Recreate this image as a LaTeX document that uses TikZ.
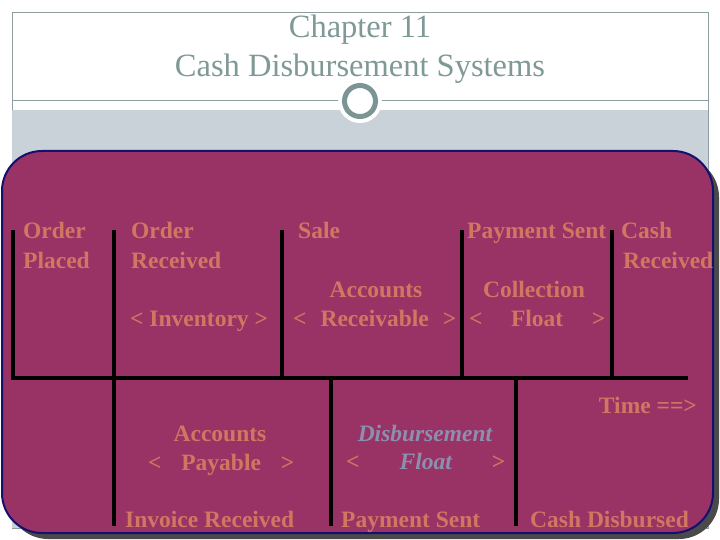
\documentclass[tikz,border=0pt]{standalone}
\usepackage{fontspec}
\setmainfont{Liberation Serif}
\definecolor{plum}{HTML}{993366}
\definecolor{navyline}{HTML}{14106E}
\definecolor{salmon}{HTML}{D27662}
\definecolor{floatgray}{HTML}{8C8FAE}
\definecolor{slate}{HTML}{C8D2D8}
\definecolor{framegray}{HTML}{8E9E9E}
\definecolor{ringgray}{HTML}{7A9593}
\definecolor{titlegray}{HTML}{7F9997}
\definecolor{panelshadow}{HTML}{4A4A4A}
\begin{document}
\begin{tikzpicture}[x=1pt,y=-1pt,
  evtext/.style={anchor=base west,inner sep=0pt,text=salmon,font=\fontsize{23.5}{29}\selectfont\bfseries},
  midtext/.style={evtext,anchor=base},
  floattext/.style={midtext,text=floatgray,font=\fontsize{23.5}{29}\selectfont\bfseries\itshape},
  titletext/.style={anchor=base,inner sep=0pt,text=titlegray,font=\fontsize{32.5}{39}\selectfont},
  tline/.style={line width=4pt,black}]
  \useasboundingbox (0,0) rectangle (720,540);
  % slide frame
  \draw[framegray,fill=white] (12,12) rectangle (708,528);
  \fill[slate] (12,110) rectangle (708,528);
  \draw[framegray] (12,100) -- (708,100);
  \fill[white] (360,101) circle (22);
  \draw[ringgray,line width=5pt,fill=white] (360,101) circle (15.5);
  \node[titletext] (chap) at (360,38) {Chapter 11};
  \node[titletext] (sys) at (360,77) {Cash Disbursement Systems};
  % panel
  \fill[panelshadow,rounded corners=40pt] (8,157) rectangle (719,539);
  \draw[navyline,line width=2pt,fill=plum,rounded corners=40pt] (2,151) rectangle (713,533);
  % time line
  \foreach \x [count=\i] in {13,114,282,462,612}
    \coordinate (up\i) at (\x,230);
  \foreach \x [count=\i] in {114,331,516}
    \coordinate (dn\i) at (\x,526);
  \coordinate (lineL) at (11,378);
  \coordinate (lineR) at (688,378);
  \draw[tline] (lineL) -- (lineR);
  \foreach \i in {1,...,5}
    \draw[tline] (up\i) -- (up\i |- lineL);
  \foreach \i in {1,...,3}
    \draw[tline] (dn\i |- lineL) -- (dn\i);
  % events above
  \node[evtext] (ordp1) at (23,239) {Order};
  \node[evtext] (ordp2) at (23,268) {Placed};
  \node[evtext] (ordr1) at (131,239) {Order};
  \node[evtext] (ordr2) at (131,268) {Received};
  \node[evtext] (sale) at (298,239) {Sale};
  \node[evtext] (psent) at (467,239) {Payment Sent};
  \node[evtext] (cash1) at (621,239) {Cash};
  \node[evtext] (cash2) at (623,268) {Received};
  \node[evtext] (inv) at (130,326) {< Inventory >};
  \node[midtext] (ar1) at (376,297) {Accounts};
  \node[evtext] (ar2) at (293,326) {\makebox[163pt]{<\hfill Receivable\hfill >}};
  \node[midtext] (cf1) at (534,297) {Collection};
  \node[evtext] (cf2) at (469,326) {\makebox[136pt]{<\hfill Float\hfill >}};
  \node[evtext,anchor=base east] (time) at (697,413) {Time ==>};
  % events below
  \node[midtext] (ap1) at (220,441) {Accounts};
  \node[evtext] (ap2) at (148,470) {\makebox[146pt]{<\hfill Payable\hfill >}};
  \node[floattext] (df1) at (425,441) {Disbursement};
  \node[evtext] (df2) at (346,469) {\makebox[159pt]{<\hfill\textcolor{floatgray}{\itshape Float}\hfill >}};
  \node[evtext] (invr) at (125,527) {Invoice Received};
  \node[evtext] (psent2) at (341,527) {Payment Sent};
  \node[evtext] (cdis) at (530,527) {Cash Disbursed};
\end{tikzpicture}
\end{document}
